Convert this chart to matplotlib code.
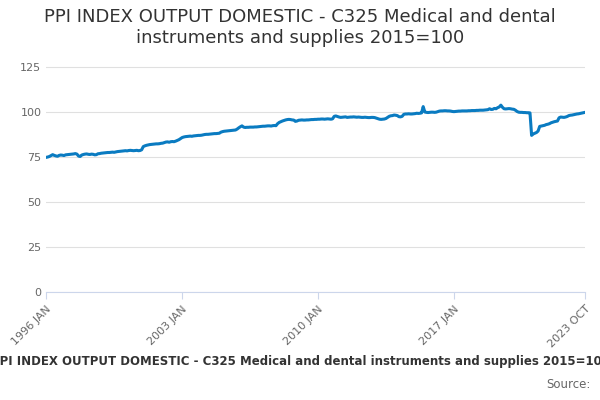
import matplotlib
matplotlib.use("Agg")
import matplotlib.pyplot as plt

start_year = 1996
values = [
 # 1996
 74.8,75.0,75.3,75.8,76.3,75.9,75.6,75.4,75.9,76.1,76.0,75.8,
 # 1997
 76.2,76.3,76.4,76.5,76.6,76.7,76.9,76.6,75.5,75.3,76.1,76.4,
 # 1998
 76.6,76.7,76.5,76.4,76.6,76.5,76.2,76.3,76.8,76.9,77.1,77.2,
 # 1999
 77.3,77.4,77.5,77.5,77.6,77.7,77.6,77.8,78.0,78.1,78.2,78.3,
 # 2000
 78.4,78.5,78.4,78.6,78.7,78.6,78.5,78.6,78.7,78.5,78.6,79.0,
 # 2001
 80.8,81.2,81.5,81.7,81.9,82.0,82.1,82.2,82.3,82.3,82.4,82.6,
 # 2002
 82.7,83.0,83.3,83.4,83.2,83.5,83.6,83.5,83.8,84.2,84.6,85.2,
 # 2003
 85.8,86.1,86.3,86.4,86.5,86.6,86.5,86.7,86.8,86.9,87.0,87.0,
 # 2004
 87.1,87.3,87.5,87.6,87.6,87.7,87.8,87.9,88.0,88.0,88.1,88.2,
 # 2005
 88.8,89.1,89.3,89.4,89.5,89.6,89.7,89.8,89.9,90.0,90.5,91.2,
 # 2006
 91.8,92.3,91.6,91.4,91.5,91.5,91.6,91.6,91.6,91.7,91.7,91.8,
 # 2007
 91.9,92.0,92.1,92.1,92.2,92.3,92.3,92.2,92.4,92.5,92.4,93.5,
 # 2008
 94.2,94.6,95.0,95.3,95.6,95.8,95.9,95.8,95.6,95.5,94.8,95.0,
 # 2009
 95.4,95.5,95.6,95.5,95.5,95.6,95.6,95.7,95.8,95.8,95.9,95.9,
 # 2010
 96.0,96.0,96.1,96.1,96.0,96.1,96.2,96.1,96.0,96.2,97.6,97.8,
 # 2011
 97.5,97.2,97.0,97.1,97.2,97.3,97.0,97.1,97.2,97.2,97.3,97.2,
 # 2012
 97.1,97.2,97.1,97.0,97.0,97.1,97.0,96.9,96.9,97.0,97.0,96.9,
 # 2013
 96.6,96.3,96.0,95.9,96.0,96.1,96.4,97.0,97.6,97.9,98.0,98.3,
 # 2014
 98.2,98.0,97.4,97.3,97.6,98.7,98.9,98.9,99.0,98.9,98.9,99.0,
 # 2015
 99.1,99.3,99.2,99.3,99.5,103.0,100.0,99.8,99.7,99.8,99.9,99.9,
 # 2016
 99.8,99.9,100.2,100.5,100.6,100.6,100.7,100.7,100.6,100.6,100.5,100.3,
 # 2017
 100.2,100.3,100.4,100.5,100.5,100.6,100.6,100.6,100.6,100.7,100.7,100.8,
 # 2018
 100.8,100.8,100.9,100.9,101.0,101.0,101.0,101.1,101.2,101.3,101.8,101.4,
 # 2019
 101.5,102.0,101.8,102.4,102.8,103.8,102.6,101.8,101.7,101.8,101.9,101.8,
 # 2020
 101.6,101.5,101.0,100.3,99.9,99.8,99.8,99.7,99.7,99.6,99.6,99.5,
 # 2021
 87.0,87.8,88.2,88.6,89.4,92.0,92.2,92.4,92.6,93.0,93.2,93.5,
 # 2022
 94.0,94.3,94.6,94.8,95.0,96.8,97.2,97.1,97.0,97.2,97.5,98.0,
 # 2023
 98.2,98.3,98.5,98.7,98.9,99.0,99.2,99.4,99.6,99.8,
]
tick_labels = ["1996 JAN", "2003 JAN", "2010 JAN", "2017 JAN", "2023 OCT"]
tick_pos = [0, 84, 168, 252, len(values) - 1]

fig = plt.figure(figsize=(6, 4), dpi=100)
ax = fig.add_axes([0.077, 0.27, 0.898, 0.585])
ax.plot(range(len(values)), values, color="#0a7bc1", lw=2.2)
ax.set_xlim(0, len(values) - 1)
ax.set_ylim(0, 130)
ax.set_yticks([0, 25, 50, 75, 100, 125])
ax.grid(axis="y", color="#e0e0e0", lw=0.8)
ax.set_axisbelow(True)
for s in ["top", "right", "left"]:
    ax.spines[s].set_visible(False)
ax.spines["bottom"].set_color("#ccd6eb")
ax.tick_params(axis="y", length=0, labelsize=8, colors="#666666")
ax.set_xticks(tick_pos)
ax.set_xticklabels(tick_labels, rotation=45, ha="right", rotation_mode="anchor",
                   fontsize=8, color="#666666")
ax.tick_params(axis="x", color="#ccd6eb", length=5)
fig.text(0.5, 0.98, "PPI INDEX OUTPUT DOMESTIC - C325 Medical and dental\ninstruments and supplies 2015=100",
         ha="center", va="top", fontsize=13, color="#333333")
fig.text(0.5, 0.095, "PPI INDEX OUTPUT DOMESTIC - C325 Medical and dental instruments and supplies 2015=100",
         ha="center", va="center", fontsize=8.5, color="#333333", fontweight="bold")
fig.text(0.985, 0.04, "Source:", ha="right", va="center", fontsize=8.5, color="#666666")
fig.savefig("out.png", dpi=100)
